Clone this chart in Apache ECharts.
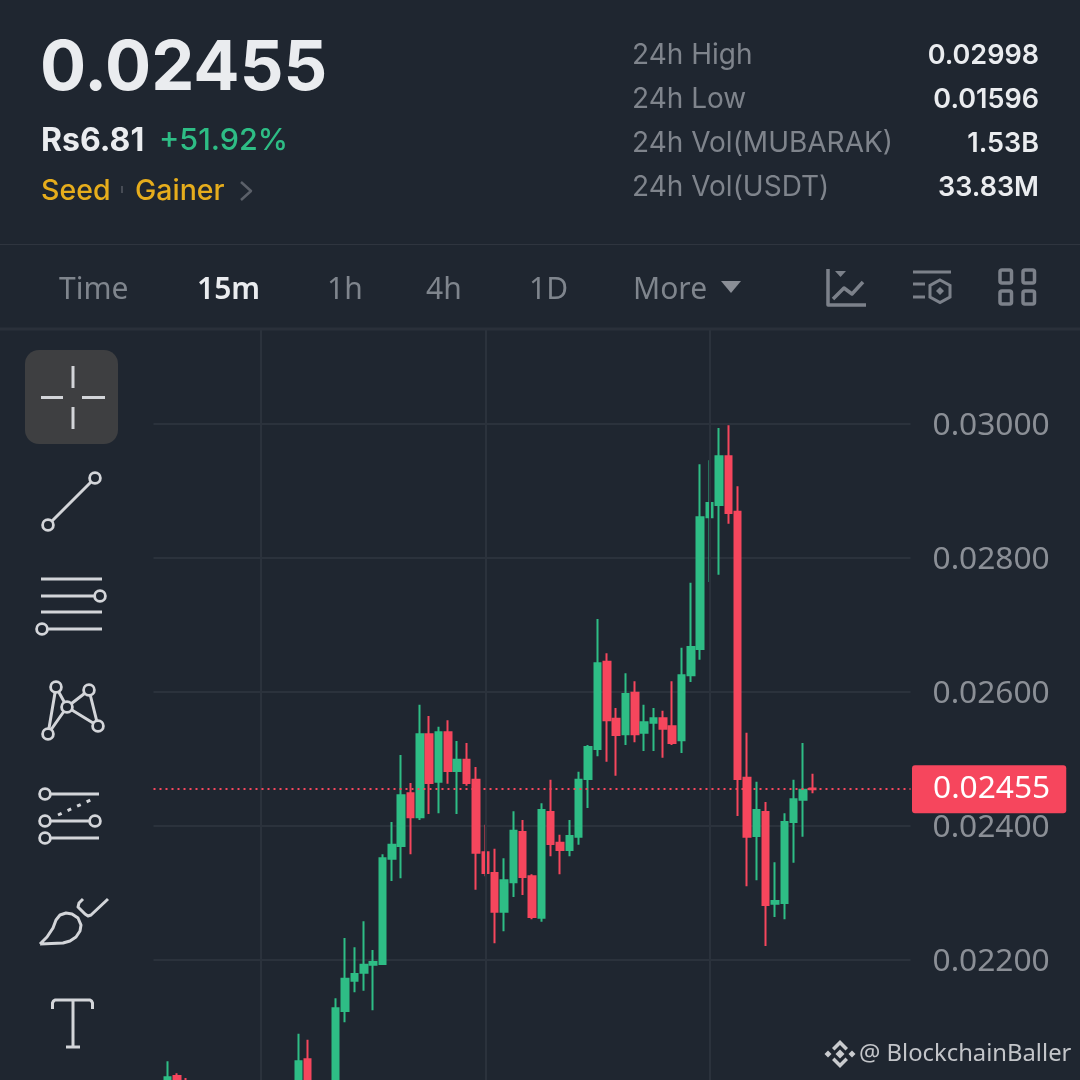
<!DOCTYPE html>
<html><head><meta charset="utf-8">
<style>html,body{margin:0;padding:0;background:#1f2630;overflow:hidden}#c{width:1080px;height:1080px}</style>
<script src="https://cdn.jsdelivr.net/npm/echarts@6/dist/echarts.min.js"></script>
</head><body><div id="c"></div>
<script>
// ---- data (15m candles; null = candle lies below the visible area)
const n = null;
const opens = [n,.02006,.02027,.02018,n,n,n,n,n,n,n,n,n,n,n,.02006,.02052,n,n,.02006,
 .02124,.02169,.02181,.02193,.02194,.02351,.02370,.02449,.02413,.02537,
 .02466,.02540,.02482,.02499,.02469,.02361,.02330,.02272,.02316,.02391,
 .02325,.02263,.02421,.02375,.02364,.02384,.02470,.02515,.02645,.02560,
 .02537,.02599,.02539,.02554,.02561,.02549,.02528,.02625,.02664,.02861,
 .02879,.02952,.02869,.02472,.02385,.02421,.02284,.02285,.02406,.02439,
 .02456,n,n,n,n,n,n,n,n,n,n];
const closes = [n,.02025,.02006,.02006,n,n,n,n,n,n,n,n,n,n,n,.02049,.02006,n,n,.02128,
 .02172,.02179,.02193,.02197,.02352,.02372,.02446,.02413,.02537,.02464,
 .02540,.02482,.02499,.02464,.02360,.02330,.02272,.02319,.02393,.02324,
 .02264,.02424,.02373,.02364,.02385,.02469,.02518,.02643,.02558,.02536,
 .02597,.02537,.02555,.02561,.02545,.02524,.02625,.02667,.02861,.02882,
 .02952,.02867,.02470,.02384,.02424,.02282,.02288,.02406,.02440,.02454,
 .02455,n,n,n,n,n,n,n,n,n,n];
const lows = [n,.02001,.02001,.02001,n,n,n,n,n,n,n,n,n,n,n,.02001,.02001,n,n,.02001,
 .02107,.02152,.02154,.02125,.02194,.02318,.02322,.02358,.02409,.02418,
 .02419,.02463,.02418,.02460,.02305,.02325,.02225,.02243,.02294,.02297,
 .02261,.02257,.02355,.02328,.02355,.02372,.02427,.02504,.02496,.02475,
 .02521,.02525,.02512,.02512,.02502,.02521,.02509,.02615,.02648,.02764,
 .02775,.02851,.02415,.02310,.02319,.02221,.02264,.02261,.02345,.02384,
 .02449,n,n,n,n,n,n,n,n,n,n];
const highs = [n,.02049,.02031,.02024,n,n,n,n,n,n,n,n,n,n,n,.02090,.02081,n,n,.02143,
 .02233,.02219,.02258,.02215,.02358,.02406,.02506,.02464,.02581,.02564,
 .02548,.02558,.02527,.02524,.02488,.02402,.02366,.02352,.02422,.02409,
 .02328,.02434,.02469,.02387,.02409,.02481,.02521,.02709,.02658,.02576,
 .02628,.02616,.02581,.02576,.02572,.02616,.02666,.02763,.02940,.02946,
 .02994,.02998,.02907,.02539,.02466,.02436,.02346,.02419,.02469,.02524,
 .02478,n,n,n,n,n,n,n,n,n,n];
const categories = opens.map((_, i) => 'c' + i);
const timeGridSlots = ['c11', 'c35', 'c59'];
const lastPrice = 0.02455;
const priceStats = [['24h High','0.02998'],['24h Low','0.01596'],['24h Vol(MUBARAK)','1.53B'],['24h Vol(USDT)','33.83M']];
const intervals = ['Time','15m','1h','4h','1D','More'];

// ---- styles
const BG='#1f2630', UP='#2ebd85', DOWN='#f6465d', GRID='#2b323c', ICON='#d3d5d9', TB='#7c818a';
const HEAD='Inter, sans-serif', UI='"Noto Sans", sans-serif';

function txt(s,x,y,size,fill,weight,family,align){
  return {type:'text',silent:true,z:10,style:{text:s,x:x,y:y,fill:fill,font:(weight||400)+' '+size+'px '+(family||HEAD),textAlign:align||'left',textVerticalAlign:'middle'}};
}
function ln(pts,color,w,dash,fill){
  return {type:'polyline',silent:true,z:10,shape:{points:pts},style:{stroke:color||ICON,lineWidth:w||3,fill:fill||null,lineDash:dash||null,lineCap:'butt',lineJoin:'round'}};
}
function ci(x,y,r){
  return {type:'circle',silent:true,z:11,shape:{cx:x,cy:y,r:r||5.4},style:{stroke:ICON,lineWidth:2.8,fill:BG}};
}
function pg(pts,fill){
  return {type:'polygon',silent:true,z:10,shape:{points:pts},style:{fill:fill}};
}
function rr(x,y,w,h,r,fill,stroke,lw){
  return {type:'rect',silent:true,z:9,shape:{x:x,y:y,width:w,height:h,r:r},style:{fill:fill||null,stroke:stroke||null,lineWidth:lw||0}};
}

const statY=[56,100,144,188];
const tabX=[59,197,327,426,529,633];
const g=[
 txt('0.02455',40,69,68.5,'#eaecef',700),
 txt('Rs6.81',41,141,32,'#eaecef',700),
 txt('+51.92%',159,141,30.5,UP,500),
 txt('Seed',41,191,28.5,'#e6ad1c',500),
 ln([[122,186],[122,193]],'#474c55',2),
 txt('Gainer',135,191,28.5,'#e6ad1c',500),
 ln([[241,182],[251,191],[241,200]],'#5b6069',2.5),
 ln([[0,244.5],[1080,244.5]],'#2f353f',1),
 ln([[0,329],[1080,329]],'#2a303a',3),
 pg([[721,281],[741,281],[731,293]],'#8a8e96'),
 // toolbar icons
 ln([[828,269],[828,305],[866,305]],TB,3.5),
 pg([[835,271],[846,271],[840.5,277]],TB),
 ln([[833,299],[844,288],[852,294],[863,282]],TB,3.5),
 ln([[913,272],[951,272]],TB,3),
 ln([[913,284],[925,284]],TB,3),
 ln([[913,297],[925,297]],TB,3),
 {type:'polygon',silent:true,z:10,shape:{points:[[940,280],[950,285.5],[950,297],[940,302.5],[930,297],[930,285.5]]},style:{stroke:TB,lineWidth:3,fill:null}},
 pg([[940,287],[944,291],[940,295],[936,291]],TB),
 rr(1000,270,11.5,13,2,null,TB,3.5),rr(1023,270,11.5,13,2,null,TB,3.5),
 rr(1000,291,11.5,13,2,null,TB,3.5),rr(1023,291,11.5,13,2,null,TB,3.5),
 // drawing tools
 rr(25,350,93,94,14,'#3e3f41'),
 ln([[73,366],[73,388]]),ln([[73,407],[73,429]]),ln([[41,397.5],[63,397.5]]),ln([[82,397.5],[105,397.5]]),
 ln([[48,525],[95,478]]),ci(48,525),ci(95,478),
 ln([[41,579],[102,579]]),ln([[41,596],[100,596]]),ci(100,596),ln([[41,612],[102,612]]),ln([[42,629],[102,629]]),ci(42,629),
 ln([[48,734],[56,687],[67,707],[89,690],[98,726]]),ln([[48,734],[67,707],[98,726]]),
 ci(56,687),ci(89,690),ci(67,707),ci(48,734),ci(98,726),
 ln([[45,794],[99,794]]),ci(45,794),ln([[45,821],[95,821]]),ci(45,821),ci(95,821),ln([[45,838],[99,838]]),ci(45,838),
 ln([[58,815],[95,798]],ICON,3,[4,6.5]),
 // brush
 ln([[40,944],[63,943],[70,941],[76,937],[80,931],[81,925],[78,918],[72,914],[66,913],[60,915],[56,920],[53,928],[47,937],[40,944]]),
 ln([[83,899],[79,903],[78,907],[85,914],[88,916],[91,915],[108,899]]),
 // text tool
 ln([[52.5,1009],[52.5,1003],[53.5,1001],[55,1000],[90,1000],[91.5,1001],[92.5,1003],[92.5,1009]]),
 ln([[73,1000],[73,1047]]),ln([[66,1047],[80,1047]]),
 // watermark
 pg([[840,1049.5],[844.5,1054],[840,1058.5],[835.5,1054]],'#c9cbce'),
 pg([[828,1050.5],[831.5,1054],[828,1057.5],[824.5,1054]],'#c9cbce'),
 pg([[852,1050.5],[855.5,1054],[852,1057.5],[848.5,1054]],'#c9cbce'),
 pg([[840,1040],[848,1048],[845.5,1050.5],[840,1045],[834.5,1050.5],[832,1048]],'#c9cbce'),
 pg([[840,1068],[848,1060],[845.5,1057.5],[840,1063],[834.5,1057.5],[832,1060]],'#c9cbce'),
 txt('@ BlockchainBaller',859,1054,23.8,'#c3c5c9',400,UI)
];
priceStats.forEach((r,i)=>{
  g.push(txt(r[0],632,statY[i],28,'#7f848c',400));
  g.push(txt(r[1],1039,statY[i],27,'#eaecef',600,HEAD,'right'));
});
intervals.forEach((s,i)=>{
  g.push(txt(s,tabX[i],290,30,i===1?'#eaecef':'#7f858d',i===1?600:400,UI));
});

const chart=echarts.init(document.getElementById('c'),null,{renderer:'canvas'});
chart.setOption({
 animation:false,
 backgroundColor:BG,
 grid:{left:153.5,width:757,top:330,height:764,containLabel:false,outerBoundsMode:'none'},
 xAxis:{type:'category',data:categories,boundaryGap:true,show:false,splitLine:{show:false}},
 yAxis:{type:'value',position:'right',min:0.020,max:0.031403,interval:0.002,
  axisLine:{show:false},axisTick:{show:false},
  splitLine:{show:true,showMinLine:false,showMaxLine:false,lineStyle:{color:GRID,width:2}},
  axisLabel:{showMinLabel:false,showMaxLabel:false,margin:22,color:'#8b8f96',fontFamily:'"Noto Sans"',fontSize:31.7,lineHeight:36,verticalAlign:'top',padding:[-16,0,0,0],
   formatter:v=>v.toFixed(5)}},
 series:[
  {type:'line',z:1,silent:true,data:categories.map(()=>null),showSymbol:false,
   markLine:{silent:true,symbol:'none',animation:false,label:{show:false},lineStyle:{color:GRID,width:2,type:'solid'},
    data:timeGridSlots.map(c=>({xAxis:c}))}},
  {type:'candlestick',z:2,silent:true,barWidth:7,
   data:categories.map((_,i)=>[opens[i],closes[i],lows[i],highs[i]]),
   itemStyle:{color:UP,color0:DOWN,borderColor:UP,borderColor0:DOWN,borderWidth:2},
   markLine:{silent:true,symbol:'none',animation:false,precision:5,
    lineStyle:{color:DOWN,width:2,type:[2,4]},
    label:{show:true,position:'end',distance:1.5,formatter:()=>lastPrice.toFixed(5),color:'#fff',fontFamily:'"Noto Sans"',fontSize:31.7,
     backgroundColor:DOWN,padding:[8,16,8,21],borderRadius:3},
    data:[{yAxis:lastPrice}]}}
 ],
 graphic:{elements:g}
});
</script></body></html>
